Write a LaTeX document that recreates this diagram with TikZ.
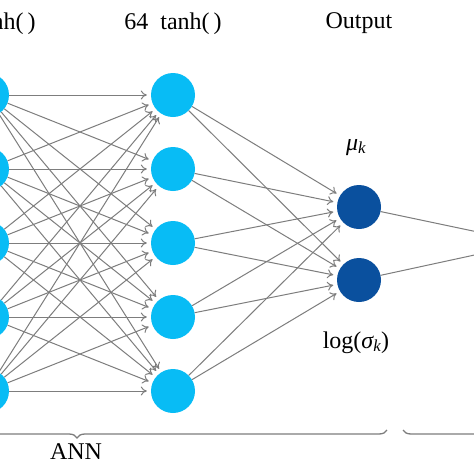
\documentclass[tikz,border=0pt]{standalone}
\usepackage{fontspec}
\setmainfont{Liberation Serif}
\usetikzlibrary{decorations.pathreplacing,arrows.meta}
\definecolor{hidblue}{RGB}{8,188,245}
\definecolor{outblue}{RGB}{10,80,158}
\definecolor{linegray}{RGB}{125,125,125}
\begin{document}
\begin{tikzpicture}[x=1pt,y=-1pt,
  hid/.style={circle,fill=hidblue,minimum size=44pt,inner sep=0pt},
  outn/.style={circle,fill=outblue,minimum size=44pt,inner sep=0pt},
  conn/.style={draw=linegray,line width=1pt,-{To[length=6pt,width=9pt]},shorten >=4pt},
  plain/.style={draw=linegray,line width=1pt},
  lbl/.style={font=\fontsize{24}{28}\selectfont,anchor=base,inner sep=0pt},
  brc/.style={draw=linegray,line width=1.3pt,decorate,decoration={brace,mirror,amplitude=8pt}}]
\useasboundingbox (0,0) rectangle (474,474);
\fill[white] (0,0) rectangle (474,474);
\foreach \i/\y in {1/95,2/169,3/243,4/317,5/391} {
  \node[hid] (a\i) at (-13,\y) {};
  \node[hid] (b\i) at (173,\y) {};
}
\node[outn] (o1) at (359,207) {};
\node[outn] (o2) at (359,280) {};
\coordinate (t) at (530,243);
\foreach \i in {1,...,5} {
  \foreach \j in {1,...,5} {
    \draw[conn] (a\i) -- (b\j);
  }
  \foreach \j in {1,2} {
    \draw[conn] (b\i) -- (o\j);
  }
}
\draw[plain] (o1) -- (t);
\draw[plain] (o2) -- (t);
\node[lbl] (l1) at (-13,29) {64\enspace tanh(\,)};
\node[lbl] (l2) at (173,29) {64\enspace tanh(\,)};
\node[lbl] (l3) at (359,28) {Output};
\node[lbl] (mu) at (356,150) {\itshape μ\textsubscript{k}};
\node[lbl] (sg) at (356,348) {log(\textit{σ\textsubscript{k}})};
\node[lbl] (ann) at (76,459) {ANN};
\coordinate (bl) at (-233,430);
\coordinate (br) at (387,430);
\draw[brc] (bl) -- (br);
\coordinate (cl) at (403,430);
\coordinate (cr) at (699,430);
\draw[brc] (cl) -- (cr);
\end{tikzpicture}
\end{document}
